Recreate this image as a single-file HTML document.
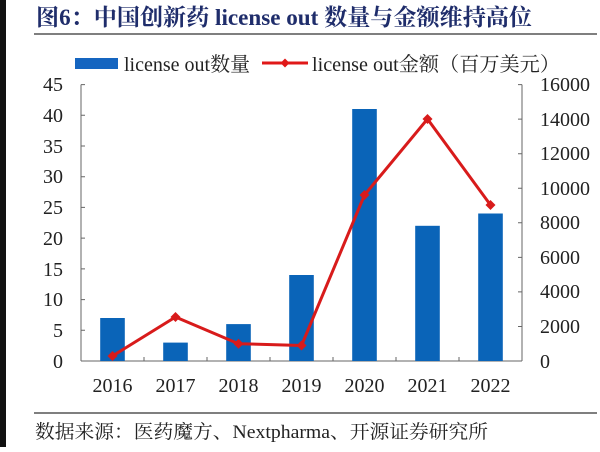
<!DOCTYPE html><html><head><meta charset="utf-8"><style>body{margin:0;background:#fff}</style></head><body>
<svg width="600" height="447" xmlns="http://www.w3.org/2000/svg" font-family="'Liberation Serif','Noto Serif CJK SC',serif">
<rect width="600" height="447" fill="#fff"/>
<rect x="0" y="0" width="6" height="447" fill="#111"/>
<text x="36" y="25" font-size="23" font-weight="bold" fill="#1f2d6b" textLength="496" lengthAdjust="spacingAndGlyphs">图6：中国创新药 license out 数量与金额维持高位</text>
<line x1="34" y1="34" x2="597" y2="34" stroke="#333" stroke-width="1.2"/>
<rect x="75" y="58" width="43" height="11" fill="#1565c0"/>
<text x="124" y="71" font-size="20" fill="#222">license out数量</text>
<line x1="262" y1="63" x2="308" y2="63" stroke="#e01818" stroke-width="3"/>
<path d="M285 58.5 L289.5 63 L285 67.5 L280.5 63Z" fill="#e01818"/>
<text x="312" y="71" font-size="20" fill="#222" textLength="248" lengthAdjust="spacingAndGlyphs">license out金额（百万美元）</text>
<g stroke="#666" stroke-width="1" fill="none">
<line x1="81" y1="84.6" x2="81" y2="361"/><line x1="522" y1="84.6" x2="522" y2="361"/><line x1="81" y1="361" x2="522" y2="361"/>
<path d="M81 84.6h4M81 115.3h4M81 146h4M81 176.7h4M81 207.4h4M81 238.1h4M81 268.9h4M81 299.6h4M81 330.3h4"/>
<path d="M522 84.6h-4M522 119.1h-4M522 153.7h-4M522 188.2h-4M522 222.8h-4M522 257.4h-4M522 291.9h-4M522 326.5h-4"/>
<path d="M144 361v-4M207 361v-4M270 361v-4M333 361v-4M396 361v-4M459 361v-4"/>
</g>
<g font-size="20" fill="#222" text-anchor="end">
<text x="63" y="91">45</text><text x="63" y="122">40</text><text x="63" y="153">35</text><text x="63" y="183">30</text><text x="63" y="214">25</text><text x="63" y="245">20</text><text x="63" y="276">15</text><text x="63" y="306">10</text><text x="63" y="337">5</text><text x="63" y="368">0</text>
</g>
<g font-size="20" fill="#222" text-anchor="start">
<text x="540" y="91">16000</text><text x="540" y="126">14000</text><text x="540" y="160">12000</text><text x="540" y="195">10000</text><text x="540" y="229">8000</text><text x="540" y="264">6000</text><text x="540" y="298">4000</text><text x="540" y="333">2000</text><text x="540" y="368">0</text>
</g>
<g fill="#0a64b8">
<rect x="100.2" y="318" width="24.6" height="43"/>
<rect x="163.2" y="342.6" width="24.6" height="18.4"/>
<rect x="226.2" y="324.1" width="24.6" height="36.9"/>
<rect x="289.2" y="275" width="24.6" height="86"/>
<rect x="352.2" y="109" width="24.6" height="252"/>
<rect x="415.2" y="225.8" width="24.6" height="135.2"/>
<rect x="478.2" y="213.5" width="24.6" height="147.5"/>
</g>
<polyline points="112.5,356 175.5,317 238.5,343.7 301.5,345.5 364.5,195 427.5,119 490.5,205" fill="none" stroke="#d81b1b" stroke-width="3" stroke-linejoin="round"/>
<g fill="#d81b1b">
<path d="M112.5 351l5 5-5 5-5-5z"/><path d="M175.5 312l5 5-5 5-5-5z"/><path d="M238.5 338.7l5 5-5 5-5-5z"/><path d="M301.5 340.5l5 5-5 5-5-5z"/><path d="M364.5 190l5 5-5 5-5-5z"/><path d="M427.5 114l5 5-5 5-5-5z"/><path d="M490.5 200l5 5-5 5-5-5z"/>
</g>
<g font-size="20" fill="#222" text-anchor="middle">
<text x="112.5" y="392">2016</text><text x="175.5" y="392">2017</text><text x="238.5" y="392">2018</text><text x="301.5" y="392">2019</text><text x="364.5" y="392">2020</text><text x="427.5" y="392">2021</text><text x="490.5" y="392">2022</text>
</g>
<line x1="34" y1="413" x2="597" y2="413" stroke="#333" stroke-width="1.2"/>
<text x="35" y="438" font-size="19" fill="#222" textLength="453" lengthAdjust="spacingAndGlyphs">数据来源：医药魔方、Nextpharma、开源证券研究所</text>
</svg>
</body></html>
